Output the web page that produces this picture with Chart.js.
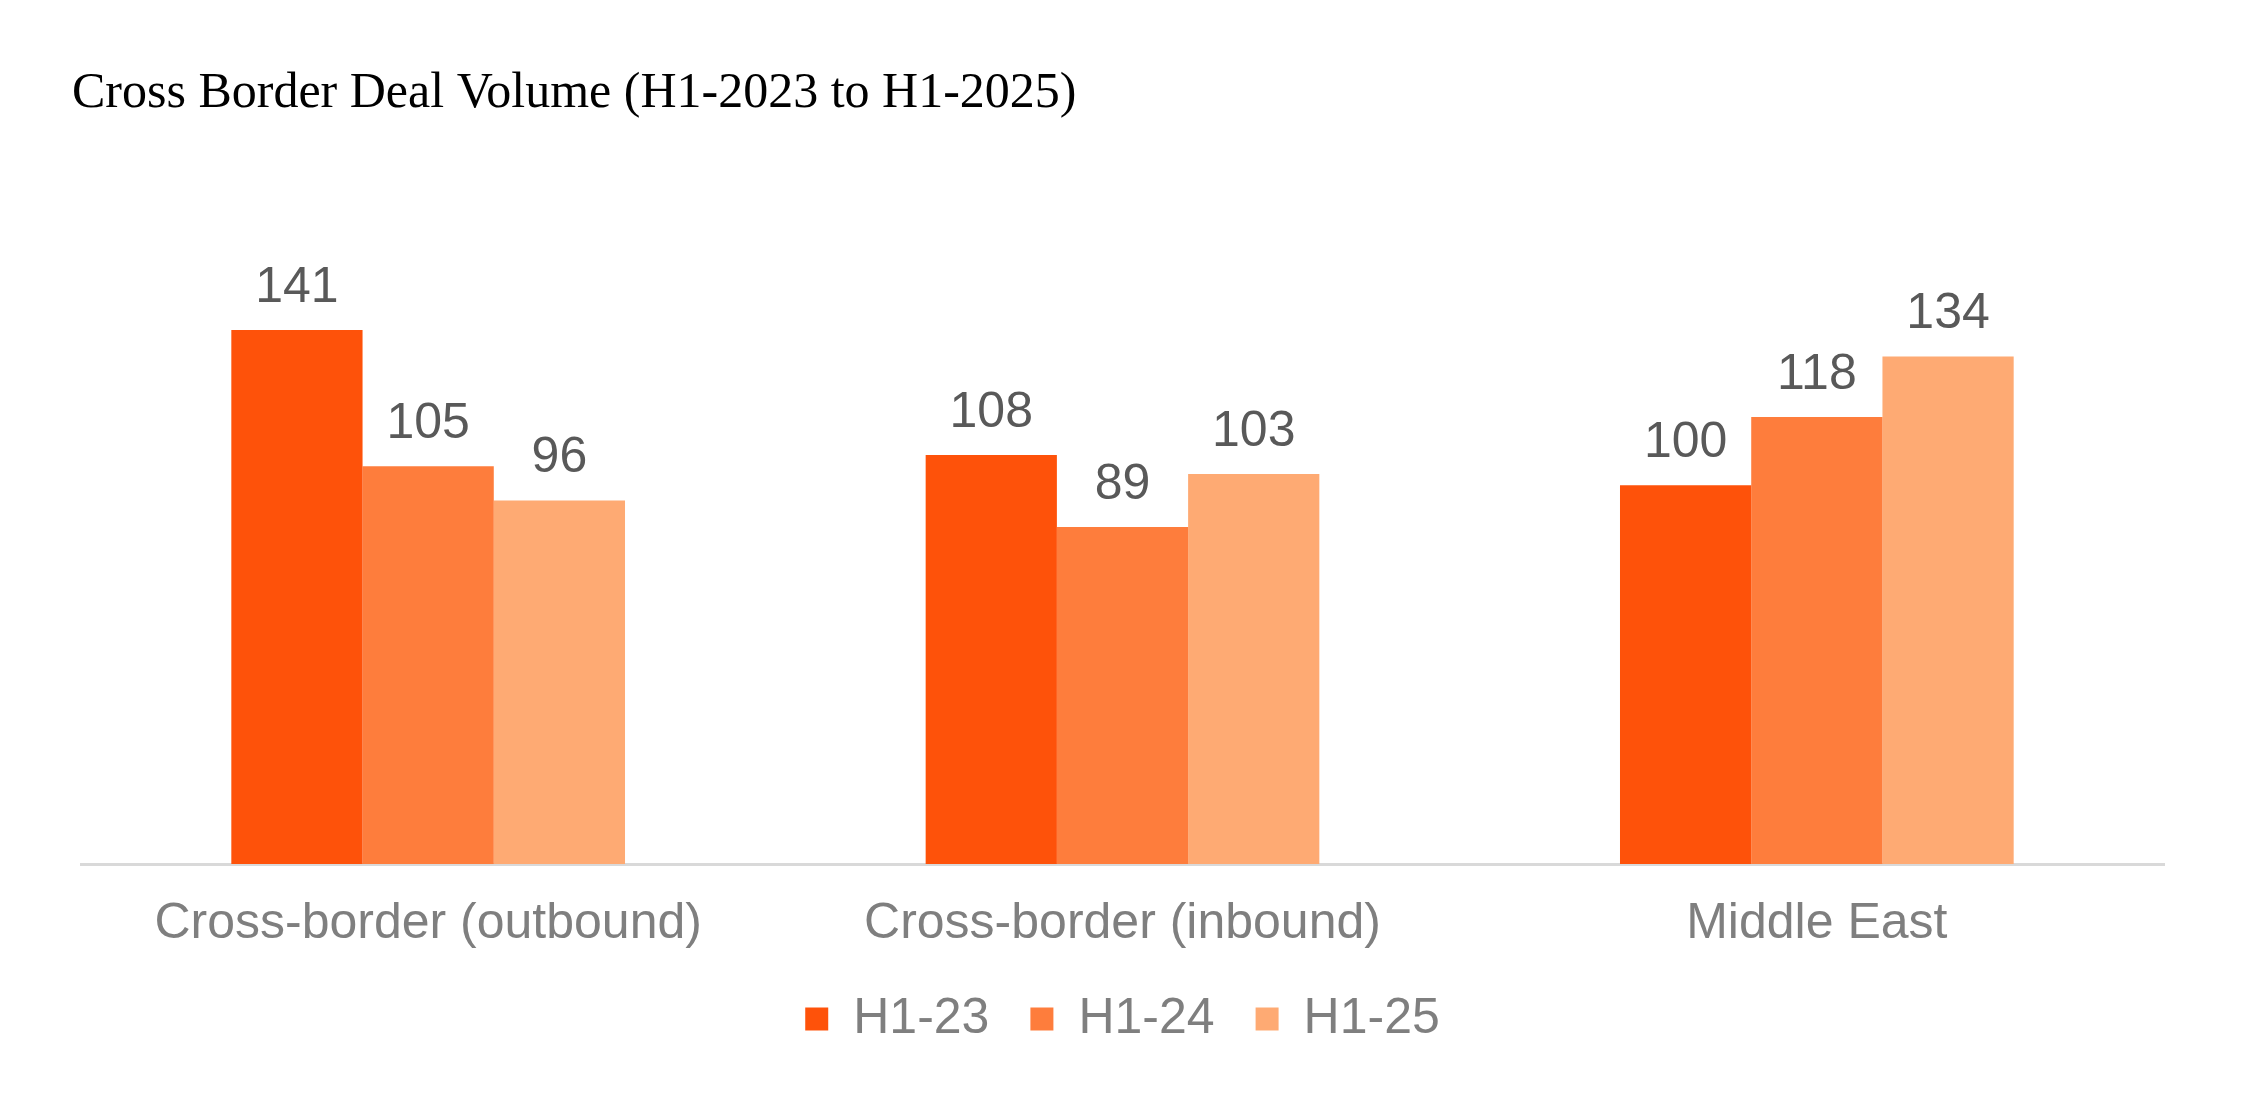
<!DOCTYPE html>
<html>
<head>
<meta charset="utf-8">
<script src="https://cdn.jsdelivr.net/npm/chart.js@4.4.1/dist/chart.umd.min.js"></script>
<style>
  html, body { margin: 0; padding: 0; background: #fff; }
  #wrap { width: 2247px; height: 1093px; position: relative; }
</style>
</head>
<body>
<div id="wrap"><canvas id="chart"></canvas></div>
<script>
// Datos del gráfico
const titulo = 'Cross Border Deal Volume (H1-2023 to H1-2025)';
const categorias = ['Cross-border (outbound)', 'Cross-border (inbound)', 'Middle East'];
const series = ['H1-23', 'H1-24', 'H1-25'];
const valoresH123 = [141, 108, 100];
const valoresH124 = [105, 89, 118];
const valoresH125 = [96, 103, 134];
const colores = ['#FE520A', '#FE7D3C', '#FEAA73'];

// Título a la izquierda
const tituloPlugin = {
    id: 'tituloIzq',
    afterDraw(chart) {
        const ctx = chart.ctx;
        ctx.save();
        ctx.font = '50px "Liberation Serif", "DejaVu Serif", serif';
        ctx.fillStyle = '#000';
        ctx.textAlign = 'left';
        ctx.textBaseline = 'alphabetic';
        ctx.fillText(titulo, 72, 107);
        ctx.restore();
    }
};

// Etiquetas de valores sobre las barras
const etiquetasPlugin = {
    id: 'etiquetas',
    afterDatasetsDraw(chart) {
        const ctx = chart.ctx;
        ctx.save();
        ctx.font = '50px "Liberation Sans", Arial, sans-serif';
        ctx.fillStyle = '#595959';
        ctx.textAlign = 'center';
        ctx.textBaseline = 'alphabetic';
        chart.data.datasets.forEach((ds, i) => {
            const meta = chart.getDatasetMeta(i);
            meta.data.forEach((bar, j) => {
                ctx.fillText(ds.data[j], bar.x, bar.y - 28);
            });
        });
        ctx.restore();
    }
};

const ctx = document.getElementById('chart');
new Chart(ctx, {
    type: 'bar',
    data: {
        labels: categorias,
        datasets: [
            { label: series[0], data: valoresH123, backgroundColor: colores[0] },
            { label: series[1], data: valoresH124, backgroundColor: colores[1] },
            { label: series[2], data: valoresH125, backgroundColor: colores[2] }
        ]
    },
    options: {
        responsive: true,
        maintainAspectRatio: false,
        animation: false,
        categoryPercentage: 0.567,
        barPercentage: 1,
        layout: {
            padding: { top: 258, left: 81, right: 83, bottom: 39 }
        },
        scales: {
            x: {
                grid: { display: false, drawTicks: false },
                border: { color: '#d9d9d9', width: 3 },
                ticks: {
                    padding: 30,
                    color: '#7f7f7f',
                    font: { family: '"Liberation Sans", Arial, sans-serif', size: 50 }
                },
                afterFit: (scale) => { scale.height -= 31; }
            },
            y: {
                display: false,
                min: 0,
                max: 160
            }
        },
        plugins: {
            legend: {
                position: 'bottom',
                labels: {
                    boxWidth: 23,
                    boxHeight: 23,
                    padding: 41,
                    color: '#7f7f7f',
                    font: { family: '"Liberation Sans", Arial, sans-serif', size: 50 }
                }
            },
            title: { display: false },
            tooltip: { enabled: false }
        }
    },
    plugins: [tituloPlugin, etiquetasPlugin]
});
</script>
</body>
</html>
